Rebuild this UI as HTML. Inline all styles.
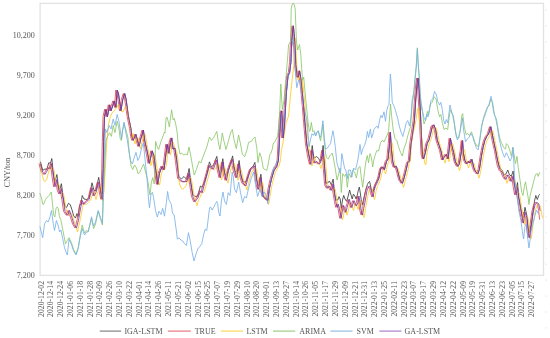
<!DOCTYPE html>
<html><head><meta charset="utf-8"><title>chart</title>
<style>
html,body{margin:0;padding:0;background:#fff;}
svg{display:block;font-family:"Liberation Serif",serif;font-size:8px;fill:#555;}
.ln path{fill:none;stroke-width:0.95;stroke-opacity:0.88;stroke-linejoin:round;stroke-linecap:round;}
</style></head><body>
<svg width="550" height="338" viewBox="0 0 550 338">
<rect x="0" y="0" width="550" height="338" fill="#fff"/>
<rect x="40.1" y="3.4" width="503.4" height="272" fill="none" stroke="#e2e2e2" stroke-width="1.3"/>
<rect x="545.4" y="9.1" width="1.3" height="1.6" fill="#ececec"/><rect x="545.4" y="25.0" width="1.3" height="1.6" fill="#ececec"/><rect x="545.4" y="40.9" width="1.3" height="1.6" fill="#ececec"/><rect x="545.4" y="56.8" width="1.3" height="1.6" fill="#ececec"/><rect x="545.4" y="72.7" width="1.3" height="1.6" fill="#ececec"/><rect x="545.4" y="88.6" width="1.3" height="1.6" fill="#ececec"/><rect x="545.4" y="104.5" width="1.3" height="1.6" fill="#ececec"/><rect x="545.4" y="120.4" width="1.3" height="1.6" fill="#ececec"/><rect x="545.4" y="136.3" width="1.3" height="1.6" fill="#ececec"/><rect x="545.4" y="152.2" width="1.3" height="1.6" fill="#ececec"/><rect x="545.4" y="168.1" width="1.3" height="1.6" fill="#ececec"/><rect x="545.4" y="184.0" width="1.3" height="1.6" fill="#ececec"/><rect x="545.4" y="199.9" width="1.3" height="1.6" fill="#ececec"/><rect x="545.4" y="215.8" width="1.3" height="1.6" fill="#ececec"/><rect x="545.4" y="231.7" width="1.3" height="1.6" fill="#ececec"/><rect x="545.4" y="247.6" width="1.3" height="1.6" fill="#ececec"/><rect x="545.4" y="263.5" width="1.3" height="1.6" fill="#ececec"/><rect x="545.4" y="279.4" width="1.3" height="1.6" fill="#ececec"/><rect x="545.4" y="295.3" width="1.3" height="1.6" fill="#ececec"/><rect x="545.4" y="311.2" width="1.3" height="1.6" fill="#ececec"/><rect x="545.4" y="327.1" width="1.3" height="1.6" fill="#ececec"/>
<g class="ln">
<path d="M40.5,162.1 L42.7,170.3 L45.0,169.0 L46.9,169.4 L48.7,162.8 L50.5,163.2 L51.8,158.5 L53.6,175.8 L55.0,181.4 L56.9,174.5 L58.7,188.5 L60.1,188.6 L61.4,183.7 L63.1,196.8 L64.9,206.3 L66.6,207.5 L68.4,203.3 L70.2,204.5 L72.0,209.9 L73.7,215.8 L75.5,218.1 L76.9,213.6 L78.1,216.5 L79.6,205.0 L80.9,204.5 L82.2,195.5 L84.0,199.0 L86.9,199.5 L89.2,197.5 L92.0,182.8 L94.0,190.5 L96.0,190.5 L98.7,177.3 L101.4,194.0 L102.2,194.0 L103.2,168.3 L103.7,141.3 L104.5,116.3 L106.0,109.3 L107.4,116.8 L109.7,104.8 L111.0,110.8 L112.5,106.3 L114.2,100.9 L115.9,107.3 L117.2,90.1 L118.5,93.8 L119.8,102.8 L120.9,110.8 L122.8,99.3 L124.7,93.5 L126.0,98.8 L127.0,105.8 L128.2,114.8 L129.0,119.3 L130.9,128.3 L131.9,136.3 L133.1,140.3 L135.9,134.3 L139.1,146.3 L140.8,138.9 L143.4,130.0 L144.9,141.3 L147.8,154.3 L149.4,163.3 L152.2,150.8 L154.0,156.3 L155.9,170.8 L157.8,184.3 L159.4,173.3 L162.2,166.3 L164.0,169.8 L167.1,144.3 L169.0,153.3 L170.4,142.3 L171.8,137.9 L173.1,148.9 L174.9,148.0 L176.8,159.9 L178.9,176.5 L181.4,179.0 L184.0,176.5 L186.8,179.5 L189.1,168.5 L190.9,182.5 L192.8,194.5 L194.9,196.4 L197.8,196.2 L200.4,186.0 L202.2,187.3 L204.9,180.5 L207.4,172.0 L209.4,161.9 L211.4,166.7 L213.4,165.4 L216.8,156.4 L218.6,169.0 L220.4,173.9 L222.8,158.7 L224.6,172.6 L226.4,176.6 L228.6,169.0 L230.4,163.5 L232.6,155.9 L234.4,169.0 L236.8,173.9 L239.1,160.5 L240.9,174.5 L243.1,181.7 L245.9,182.1 L248.6,174.5 L250.8,168.0 L253.1,166.3 L254.9,162.4 L256.8,180.0 L258.6,185.6 L260.9,174.2 L263.1,195.8 L264.9,197.6 L267.8,200.3 L269.4,188.3 L271.4,179.3 L274.1,170.3 L276.8,166.3 L278.4,160.3 L279.9,132.3 L280.9,114.3 L281.8,110.8 L283.2,138.0 L284.4,127.3 L286.4,92.3 L288.1,75.3 L289.6,72.6 L290.9,62.3 L291.8,40.3 L292.8,29.3 L293.4,25.8 L295.1,45.8 L295.8,64.3 L297.2,75.3 L298.1,77.3 L299.6,70.8 L300.9,78.9 L302.4,93.3 L303.6,106.3 L304.9,122.3 L306.8,143.9 L308.6,153.0 L310.1,159.5 L310.8,159.0 L312.2,145.5 L313.8,157.5 L314.9,157.7 L316.8,156.5 L318.6,158.6 L320.4,161.2 L321.8,156.5 L323.1,145.5 L324.6,166.5 L325.9,183.0 L327.8,183.0 L329.4,181.0 L331.4,185.0 L333.1,179.1 L334.6,192.7 L335.8,199.8 L337.8,200.1 L339.0,196.6 L340.2,199.0 L341.3,208.4 L342.5,200.0 L343.7,195.4 L345.0,199.0 L346.6,201.3 L348.2,196.0 L349.6,190.0 L351.0,195.0 L352.2,199.0 L353.4,194.2 L354.8,196.0 L356.1,199.0 L357.3,195.0 L358.5,189.5 L359.3,187.1 L360.3,193.0 L361.4,201.3 L362.4,204.9 L363.6,199.0 L364.8,194.0 L366.2,188.3 L367.4,184.5 L368.5,182.4 L369.6,181.4 L370.8,187.0 L371.9,191.5 L373.1,191.6 L374.2,188.5 L375.4,184.4 L377.8,179.5 L379.1,176.2 L380.9,167.1 L382.8,167.1 L384.4,169.8 L386.4,161.7 L388.1,158.9 L389.6,143.3 L390.4,132.3 L391.4,148.9 L392.8,161.7 L394.4,167.1 L396.4,166.3 L398.1,172.6 L399.9,179.8 L402.4,183.3 L404.1,178.0 L405.9,170.8 L407.8,162.6 L409.6,160.8 L410.9,145.3 L412.8,132.3 L414.4,120.8 L415.8,98.9 L417.2,82.6 L418.1,78.0 L419.1,89.8 L420.4,111.7 L421.2,130.3 L422.4,154.3 L423.6,158.9 L425.4,152.6 L427.2,143.3 L429.1,139.8 L430.9,132.6 L432.4,126.3 L433.9,124.8 L435.8,130.3 L437.2,139.8 L439.1,145.3 L440.9,150.8 L442.8,159.8 L444.4,156.3 L446.4,154.3 L448.1,158.9 L450.4,138.3 L451.8,145.3 L453.6,152.3 L455.4,161.7 L457.8,166.3 L459.4,163.9 L461.4,151.3 L462.6,140.6 L463.4,153.0 L464.9,160.3 L466.8,163.9 L468.6,161.3 L470.1,163.0 L471.9,159.3 L473.8,167.6 L475.4,171.3 L477.8,173.9 L479.4,169.3 L481.4,156.3 L483.1,147.3 L484.9,140.3 L486.8,136.3 L488.6,133.9 L490.8,126.7 L492.2,133.9 L494.1,143.3 L495.9,151.3 L496.8,156.7 L498.6,164.0 L500.4,168.5 L502.2,170.3 L504.1,174.9 L505.9,174.0 L507.8,170.0 L509.4,174.9 L511.4,176.0 L513.2,171.0 L514.5,184.5 L516.0,189.5 L517.5,182.5 L518.7,196.5 L520.5,206.5 L522.2,215.8 L523.5,217.7 L525.0,207.3 L526.9,215.8 L528.2,228.5 L529.5,232.3 L531.5,223.0 L533.2,210.3 L534.5,201.0 L535.8,195.5 L537.3,199.5 L538.7,195.5 L539.5,194.5" stroke="#3a3a3a"/>
<path d="M39.1,163.9 L41.3,172.1 L43.6,174.3 L45.5,171.2 L47.3,167.6 L49.1,168.5 L50.4,163.3 L52.2,177.6 L53.6,186.7 L55.5,179.3 L57.3,190.3 L58.7,193.9 L60.0,188.5 L61.8,199.3 L63.6,211.3 L65.5,214.3 L66.4,215.3 L68.1,210.3 L70.4,217.1 L72.7,224.3 L75.1,228.0 L77.3,218.9 L79.5,206.3 L80.9,200.3 L82.7,204.3 L85.5,201.3 L87.9,199.3 L90.6,187.6 L92.7,195.8 L94.6,192.3 L97.3,182.1 L100.0,195.8 L100.9,199.3 L101.8,168.3 L102.3,141.3 L103.1,116.3 L104.6,109.3 L106.0,116.8 L108.3,104.8 L109.7,110.8 L111.1,106.3 L112.9,100.9 L114.5,107.3 L115.8,90.1 L117.1,93.8 L118.4,102.8 L119.5,110.8 L121.4,99.3 L123.3,93.5 L124.6,98.8 L125.6,105.8 L126.9,114.8 L127.7,119.3 L129.6,128.3 L130.6,136.3 L131.8,140.3 L134.6,134.3 L137.8,146.3 L139.5,138.9 L142.1,130.0 L143.6,141.3 L146.4,154.3 L148.1,163.3 L150.9,150.8 L152.7,156.3 L154.6,170.8 L156.4,184.3 L158.1,173.3 L160.9,166.3 L162.7,169.8 L165.8,144.3 L167.7,153.3 L169.1,142.3 L170.5,137.9 L171.8,148.9 L173.6,148.0 L175.5,161.7 L177.6,178.3 L180.1,180.8 L182.7,181.8 L185.5,181.3 L187.8,173.3 L189.6,184.3 L191.5,196.3 L193.6,201.7 L196.4,198.0 L199.1,190.8 L200.9,192.6 L203.6,182.3 L206.1,173.3 L208.1,165.3 L210.1,168.0 L212.1,169.1 L215.5,159.8 L217.3,170.3 L219.1,177.6 L221.5,162.1 L223.3,173.9 L225.1,180.3 L227.3,170.3 L229.1,164.8 L231.3,159.3 L233.1,170.3 L235.5,177.6 L237.8,163.9 L239.6,175.8 L241.8,183.0 L244.6,185.8 L247.3,175.8 L249.5,169.3 L251.8,167.6 L253.6,165.8 L255.5,181.3 L257.3,189.3 L259.6,177.6 L261.8,195.8 L263.6,197.6 L266.4,200.3 L268.1,188.3 L270.1,179.3 L272.7,170.3 L275.5,166.3 L277.1,160.3 L278.6,132.3 L279.6,114.3 L280.5,110.8 L281.9,138.0 L283.1,127.3 L285.1,92.3 L286.8,75.3 L288.3,72.6 L289.6,62.3 L290.5,40.3 L291.5,29.3 L292.1,25.8 L293.7,45.8 L294.5,64.3 L295.9,75.3 L296.8,77.3 L298.3,70.8 L299.6,78.9 L301.1,93.3 L302.3,106.3 L303.6,122.3 L305.5,143.9 L307.3,154.8 L308.7,161.3 L309.5,164.3 L310.9,150.3 L312.4,159.3 L313.6,163.0 L315.5,161.3 L317.3,163.9 L319.1,163.0 L320.4,158.3 L321.8,150.3 L323.3,168.3 L324.6,184.8 L326.4,188.3 L328.1,185.8 L330.1,190.3 L331.8,183.9 L333.3,194.5 L334.5,201.6 L335.7,207.3 L336.9,204.0 L338.1,208.7 L339.2,215.3 L339.8,218.3 L341.0,211.1 L342.2,205.3 L343.3,208.3 L344.5,212.3 L345.7,207.3 L346.9,203.8 L348.1,199.3 L349.3,204.0 L350.5,207.5 L351.6,203.3 L352.8,200.6 L354.0,203.8 L355.2,205.7 L356.4,202.3 L357.6,195.9 L358.7,202.8 L359.9,210.8 L361.1,215.0 L362.3,208.7 L363.5,202.8 L364.7,195.7 L365.8,189.8 L367.0,187.4 L368.2,186.2 L369.4,188.8 L370.6,193.3 L371.8,196.9 L372.9,190.3 L374.1,186.2 L376.4,181.3 L377.7,178.0 L379.6,168.9 L381.4,167.1 L383.1,169.8 L385.1,161.7 L386.8,158.9 L388.3,143.3 L389.1,132.3 L390.1,148.9 L391.4,161.7 L393.1,167.1 L395.1,166.3 L396.8,172.6 L398.6,179.8 L401.1,183.3 L402.8,178.0 L404.6,170.8 L406.5,162.6 L408.3,160.8 L409.6,145.3 L411.4,132.3 L413.1,120.8 L414.5,98.9 L415.9,82.6 L416.8,78.0 L417.7,89.8 L419.1,111.7 L419.9,130.3 L421.1,154.3 L422.3,158.9 L424.1,152.6 L425.9,143.3 L427.7,139.8 L429.6,132.6 L431.1,126.3 L432.6,124.8 L434.5,130.3 L435.9,139.8 L437.7,145.3 L439.6,150.8 L441.4,159.8 L443.1,156.3 L445.1,154.3 L446.8,158.9 L449.1,138.3 L450.5,145.3 L452.3,152.3 L454.1,161.7 L456.4,166.3 L458.1,163.9 L460.1,151.3 L461.3,140.6 L462.1,153.0 L463.6,160.3 L465.5,163.9 L467.3,161.3 L468.7,163.0 L470.6,159.3 L472.4,167.6 L474.1,171.3 L476.4,173.9 L478.1,169.3 L480.1,156.3 L481.8,147.3 L483.6,140.3 L485.5,136.3 L487.3,133.9 L489.5,126.7 L490.9,133.9 L492.7,143.3 L494.6,151.3 L495.5,156.7 L497.3,165.8 L499.1,170.3 L500.9,172.1 L502.7,176.7 L504.6,179.3 L506.4,174.8 L508.1,176.7 L510.1,181.3 L511.8,175.8 L513.1,186.3 L514.6,194.8 L516.1,187.3 L517.3,198.3 L519.1,208.3 L520.9,217.6 L522.1,223.0 L523.6,212.1 L525.5,217.6 L526.9,230.3 L528.1,237.6 L530.1,224.8 L531.8,212.1 L533.6,204.8 L535.5,202.1 L537.3,203.9 L538.6,210.3 L539.6,219.3" stroke="#e0454d"/>
<path d="M40.0,163.0 L41.2,169.0 L42.4,176.0 L43.6,180.0 L44.7,181.7 L46.0,180.5 L47.1,178.0 L48.3,173.0 L49.5,169.0 L50.5,166.0 L51.3,165.4 L51.5,169.0 L52.0,168.3 L52.5,167.7 L53.0,167.9 L53.5,168.7 L54.0,170.8 L54.5,173.9 L55.0,177.6 L55.5,181.2 L56.0,183.6 L56.5,184.8 L57.0,184.9 L57.5,184.2 L58.0,183.5 L58.5,183.7 L59.0,185.0 L59.5,187.0 L60.0,189.5 L60.5,191.6 L61.0,192.9 L61.5,193.1 L62.0,192.7 L62.5,192.6 L63.0,192.9 L63.5,194.1 L64.0,196.3 L64.5,199.4 L65.0,202.6 L65.5,205.9 L66.0,208.7 L66.5,211.0 L67.0,212.8 L67.5,214.1 L68.0,214.8 L68.5,215.3 L69.0,215.4 L69.5,215.0 L70.0,214.2 L70.5,213.6 L71.0,213.3 L71.5,213.6 L72.0,214.5 L72.5,215.9 L73.0,217.4 L73.5,219.0 L74.0,220.5 L74.5,222.1 L75.0,223.5 L75.5,224.8 L76.0,225.9 L76.5,228.2 L77.0,230.3 L77.5,231.9 L78.0,230.2 L78.5,227.9 L79.0,225.1 L79.5,222.9 L80.0,220.6 L80.5,218.1 L81.0,215.5 L81.5,212.7 L82.0,210.0 L82.5,207.4 L83.0,205.3 L83.5,204.0 L84.0,203.4 L84.5,203.4 L85.0,203.9 L85.5,204.4 L86.0,204.6 L86.5,204.5 L87.0,204.0 L87.5,203.5 L88.0,203.0 L88.5,202.5 L89.0,202.0 L89.5,201.6 L90.0,201.0 L90.5,200.1 L91.0,198.9 L91.5,197.3 L92.0,195.3 L92.5,193.1 L93.0,191.8 L93.5,191.3 L94.0,191.6 L94.5,192.7 L95.0,195.5 L95.5,197.8 L96.0,199.5 L96.5,197.9 L97.0,195.6 L97.5,192.9 L98.0,191.4 L98.5,189.7 L99.0,187.8 L99.5,186.5 L100.0,186.0 L100.5,186.4 L101.0,187.7 L101.5,199.0 L102.8,201.0 L104.0,190.0 L105.5,165.0 L106.8,141.0 L108.6,123.6 L110.5,116.4 L112.3,112.5 L114.3,111.0 L116.0,108.5 L117.4,106.4 L118.3,104.2 L119.6,107.3 L121.0,111.0 L123.0,112.0 L125.0,107.3 L125.9,106.4 L127.0,109.0 L128.1,114.5 L129.5,122.5 L131.4,132.7 L132.5,139.0 L133.0,133.4 L133.5,136.1 L134.0,139.7 L134.5,142.3 L135.0,143.9 L135.5,142.2 L136.0,140.0 L136.5,137.6 L137.0,137.2 L137.5,137.3 L138.0,138.0 L138.5,139.3 L139.0,141.1 L139.5,144.3 L140.0,147.1 L140.5,149.0 L141.0,147.4 L141.5,145.0 L142.0,142.0 L142.5,140.0 L143.0,138.1 L143.5,136.3 L144.0,134.6 L144.5,134.0 L145.0,134.5 L145.5,136.1 L146.0,138.4 L146.5,141.6 L147.0,144.5 L147.5,147.1 L148.0,149.5 L148.5,151.8 L149.0,154.2 L149.5,156.7 L150.0,160.6 L150.5,163.5 L151.0,165.6 L151.5,164.0 L152.0,161.4 L152.5,157.8 L153.0,155.9 L153.5,154.7 L154.0,154.3 L154.5,154.6 L155.0,156.0 L155.5,158.4 L156.0,161.2 L156.5,164.5 L157.0,168.2 L157.5,172.0 L158.0,175.7 L158.5,180.3 L159.0,183.4 L159.5,185.1 L160.0,182.8 L160.5,179.5 L161.0,175.7 L161.5,173.6 L162.0,172.0 L162.5,170.8 L163.0,169.7 L163.5,169.1 L164.0,168.9 L164.5,169.1 L165.0,169.0 L165.5,168.2 L166.0,166.3 L166.5,163.4 L167.0,159.5 L167.5,155.4 L168.0,152.0 L168.5,150.0 L169.0,149.3 L169.5,151.1 L170.0,153.3 L170.5,154.8 L171.0,152.3 L171.5,149.0 L172.0,144.9 L172.5,142.6 L173.0,142.0 L173.5,143.0 L174.0,144.6 L174.5,146.4 L175.0,148.3 L175.5,149.3 L176.0,150.2 L176.5,151.5 L177.0,153.6 L177.5,156.4 L178.0,160.1 L178.5,177.0 L179.6,184.0 L180.8,187.5 L182.6,189.3 L184.4,187.8 L186.2,185.4 L187.3,180.0 L188.0,182.1 L188.5,181.3 L189.0,180.1 L189.5,178.7 L190.0,177.5 L190.5,177.3 L191.0,178.1 L191.5,179.8 L192.0,182.5 L192.5,185.6 L193.0,188.7 L193.5,191.7 L194.0,194.4 L194.5,196.8 L195.0,198.7 L195.5,200.3 L196.0,202.6 L196.5,204.4 L197.0,205.9 L197.5,204.2 L198.0,202.3 L198.5,200.2 L199.0,199.4 L199.5,198.4 L200.0,197.3 L200.5,196.0 L201.0,194.7 L201.5,193.7 L202.0,193.1 L202.5,192.9 L203.0,192.8 L203.5,192.6 L204.0,192.0 L204.5,190.8 L205.0,189.2 L205.5,187.3 L206.0,185.4 L206.5,183.6 L207.0,181.7 L207.5,179.9 L208.0,178.1 L208.5,176.3 L209.0,174.4 L209.5,172.5 L210.0,170.5 L210.5,169.0 L211.0,168.1 L211.5,167.7 L212.0,167.8 L212.5,168.4 L213.0,169.0 L213.5,169.4 L214.0,169.8 L214.5,169.7 L215.0,169.3 L215.5,168.6 L216.0,167.6 L216.5,166.2 L217.0,164.8 L217.5,163.6 L218.0,163.3 L218.5,163.8 L219.0,165.2 L219.5,167.3 L220.0,169.9 L220.5,173.7 L221.0,177.3 L221.5,179.7 L222.0,178.3 L222.5,175.9 L223.0,172.3 L223.5,169.4 L224.0,167.7 L224.5,167.3 L225.0,168.3 L225.5,170.3 L226.0,173.1 L226.5,175.6 L227.0,179.2 L227.5,181.6 L228.0,183.1 L228.5,181.1 L229.0,178.3 L229.5,174.8 L230.0,172.7 L230.5,170.9 L231.0,169.1 L231.5,167.6 L232.0,166.2 L232.5,164.8 L233.0,163.5 L233.5,162.8 L234.0,162.9 L234.5,163.9 L235.0,165.7 L235.5,168.1 L236.0,170.6 L236.5,172.7 L237.0,175.9 L237.5,178.5 L238.0,180.3 L238.5,178.5 L239.0,175.8 L239.5,172.2 L240.0,170.0 L240.5,169.1 L241.0,169.3 L241.5,170.9 L242.0,173.4 L242.5,176.0 L243.0,178.3 L243.5,180.3 L244.0,181.8 L244.5,183.0 L245.0,184.1 L245.5,184.9 L246.0,186.8 L246.5,188.7 L247.0,190.0 L247.5,188.3 L248.0,186.0 L248.5,183.3 L249.0,181.4 L249.5,179.6 L250.0,177.9 L250.5,176.2 L251.0,174.7 L251.5,173.2 L252.0,172.0 L252.5,171.0 L253.0,170.2 L253.5,169.7 L254.0,169.3 L254.5,168.9 L255.0,168.5 L255.5,168.0 L256.0,168.4 L256.5,169.7 L257.0,172.0 L257.5,175.1 L258.0,178.7 L258.5,182.0 L259.0,186.2 L259.5,189.5 L260.0,191.5 L260.5,189.9 L261.0,187.4 L261.5,183.9 L262.0,182.7 L262.5,182.8 L263.0,184.3 L263.5,187.1 L264.0,190.8 L264.5,193.7 L265.0,196.0 L265.5,197.5 L266.0,198.3 L266.5,198.8 L267.0,199.3 L267.5,201.1 L268.0,202.9 L268.5,204.4 L269.0,202.4 L269.5,199.7 L270.0,196.1 L270.5,193.3 L271.0,190.3 L271.5,187.5 L272.0,185.0 L272.5,182.9 L273.0,180.8 L273.5,178.9 L274.0,177.0 L274.5,175.3 L275.0,173.7 L275.5,172.4 L276.0,171.2 L276.5,170.3 L277.0,169.5 L277.5,168.0 L279.0,166.0 L280.5,160.0 L281.4,150.5 L283.2,141.4 L286.0,123.0 L288.6,116.0 L290.5,95.0 L292.3,78.6 L294.0,64.0 L294.8,42.0 L295.5,38.0 L296.5,62.0 L298.0,80.0 L299.8,76.0 L301.0,82.0 L302.0,92.0 L302.5,81.1 L303.0,85.2 L303.5,89.8 L304.0,94.9 L304.5,100.1 L305.0,105.7 L305.5,111.5 L306.0,117.3 L306.5,123.2 L307.0,129.1 L307.5,134.8 L308.0,139.8 L308.5,144.3 L309.0,148.3 L309.5,151.7 L310.0,154.5 L310.5,157.1 L311.0,160.9 L311.5,164.2 L312.0,165.9 L312.5,163.6 L313.0,160.4 L313.5,157.4 L314.0,156.2 L314.5,156.5 L315.0,158.2 L315.5,160.5 L316.0,162.1 L316.5,163.0 L317.0,163.4 L317.5,163.4 L318.0,163.2 L318.5,163.3 L319.0,163.6 L319.5,164.0 L320.0,165.7 L320.5,167.3 L321.0,168.6 L321.5,166.8 L322.0,164.6 L322.5,162.0 L323.0,160.2 L323.5,157.9 L324.0,156.4 L324.5,156.5 L325.0,158.3 L325.5,161.9 L326.0,167.3 L326.5,173.4 L327.0,178.6 L327.5,182.8 L328.0,185.9 L328.5,187.8 L329.0,188.3 L329.5,188.5 L330.0,188.3 L330.5,188.1 L331.0,188.1 L331.5,188.5 L332.0,189.3 L332.5,189.8 L333.0,189.7 L333.5,189.0 L334.0,188.4 L334.5,188.2 L335.0,189.2 L335.5,191.1 L336.0,194.0 L336.5,197.2 L337.0,200.2 L337.5,203.0 L338.0,205.0 L338.5,206.1 L339.0,206.6 L339.5,207.1 L340.0,207.4 L340.5,208.6 L341.0,210.5 L341.5,214.4 L342.0,217.6 L342.5,219.9 L343.0,218.4 L343.5,215.8 L344.0,212.1 L344.5,210.1 L345.0,208.9 L345.5,208.7 L346.0,210.6 L346.5,213.1 L347.0,215.1 L347.5,213.8 L348.0,211.8 L348.5,209.2 L349.0,207.5 L349.5,205.8 L350.0,204.1 L350.5,203.1 L351.0,202.8 L351.5,203.2 L352.0,204.2 L352.5,207.1 L353.0,209.2 L353.5,210.6 L354.0,208.7 L354.5,206.3 L355.0,203.8 L355.5,203.3 L356.0,203.5 L356.5,204.0 L357.0,206.2 L357.5,208.2 L358.0,209.6 L358.5,207.7 L359.0,205.1 L359.5,201.9 L360.0,200.8 L360.5,200.6 L361.0,201.4 L361.5,203.5 L362.0,206.6 L362.5,209.4 L363.0,213.3 L363.5,216.1 L364.0,217.6 L364.5,215.4 L365.0,212.4 L365.5,208.5 L366.0,205.8 L366.5,203.1 L367.0,200.4 L367.5,197.6 L368.0,195.0 L368.5,192.8 L369.0,191.0 L369.5,189.7 L370.0,188.8 L370.5,188.3 L371.0,188.3 L371.5,188.8 L372.0,189.7 L372.5,191.1 L373.0,192.6 L373.5,195.6 L374.0,198.1 L374.5,199.5 L375.0,197.5 L375.5,194.7 L376.0,191.4 L376.5,189.4 L377.0,187.8 L377.5,186.5 L378.0,185.3 L378.5,184.2 L379.0,183.1 L379.5,181.9 L380.0,180.5 L380.5,178.9 L381.0,177.0 L381.5,174.8 L382.0,172.9 L382.5,171.2 L383.0,170.0 L383.5,169.2 L384.0,169.1 L384.5,170.5 L385.0,172.2 L385.5,173.6 L386.0,172.0 L386.5,169.7 L387.0,166.9 L387.5,165.2 L388.0,163.6 L388.5,162.3 L389.0,160.7 L389.5,158.5 L390.0,155.4 L390.5,151.2 L391.0,145.8 L391.5,142.8 L392.0,142.5 L392.5,144.2 L393.0,148.1 L393.5,154.1 L394.0,158.7 L394.5,162.1 L395.0,164.7 L395.5,166.4 L396.0,167.2 L396.5,167.7 L397.0,167.9 L397.5,168.1 L398.0,168.7 L398.5,169.8 L399.0,171.2 L399.5,173.1 L400.0,175.1 L400.5,177.0 L401.0,178.7 L401.5,180.2 L402.0,181.4 L402.5,183.7 L403.0,185.8 L403.5,187.3 L404.0,185.8 L404.5,183.8 L405.0,181.3 L405.5,179.6 L406.0,177.8 L406.5,176.0 L407.0,174.0 L407.5,171.9 L408.0,169.8 L408.5,167.8 L409.0,164.0 L410.5,160.0 L411.4,143.0 L413.0,134.0 L415.0,125.0 L416.0,120.0 L417.2,111.4 L418.3,107.5 L419.5,120.5 L421.4,136.0 L423.0,150.0 L424.5,162.0 L425.5,165.0 L426.0,164.0 L426.5,156.7 L427.0,153.3 L427.5,151.1 L428.0,148.8 L428.5,146.6 L429.0,144.8 L429.5,143.3 L430.0,142.0 L430.5,140.7 L431.0,139.2 L431.5,137.6 L432.0,135.7 L432.5,133.7 L433.0,131.7 L433.5,129.9 L434.0,128.5 L434.5,127.3 L435.0,126.9 L435.5,127.2 L436.0,127.8 L436.5,129.0 L437.0,130.9 L437.5,133.2 L438.0,135.7 L438.5,138.3 L439.0,140.8 L439.5,142.9 L440.0,144.7 L440.5,146.2 L441.0,147.6 L441.5,149.1 L442.0,150.8 L442.5,152.6 L443.0,154.7 L443.5,156.7 L444.0,159.6 L444.5,161.7 L445.0,163.1 L445.5,161.3 L446.0,159.2 L446.5,157.1 L447.0,156.5 L447.5,156.4 L448.0,157.9 L448.5,159.9 L449.0,161.5 L449.5,159.7 L450.0,156.6 L450.5,152.5 L451.0,148.5 L451.5,145.4 L452.0,143.7 L452.5,143.4 L453.0,144.3 L453.5,146.6 L454.0,148.7 L454.5,150.9 L455.0,153.0 L455.5,155.3 L456.0,157.7 L456.5,160.0 L457.0,161.9 L457.5,163.6 L458.0,164.9 L458.5,167.1 L459.0,169.0 L459.5,170.5 L460.0,169.0 L460.5,166.7 L461.0,163.6 L461.5,161.5 L462.0,158.8 L462.5,155.4 L463.0,151.7 L463.5,149.2 L464.0,149.0 L464.5,149.8 L465.0,152.0 L465.5,155.6 L466.0,158.8 L466.5,160.6 L467.0,162.2 L467.5,164.7 L468.0,166.5 L468.5,168.1 L469.0,166.6 L469.5,165.0 L470.0,163.4 L470.5,163.3 L471.0,163.3 L471.5,163.3 L472.0,163.0 L472.5,162.4 L473.0,162.1 L473.5,162.5 L474.0,163.5 L474.5,165.0 L475.0,167.0 L475.5,168.7 L476.0,170.2 L476.5,171.3 L477.0,172.2 L477.5,173.0 L478.0,175.0 L478.5,176.7 L479.0,178.1 L479.5,176.4 L480.0,174.3 L480.5,171.5 L481.0,169.4 L481.5,166.9 L482.0,164.0 L482.5,160.9 L483.0,157.9 L483.5,155.0 L484.0,152.3 L484.5,149.9 L485.0,147.6 L485.5,145.4 L486.0,143.6 L486.5,142.0 L487.0,140.6 L487.5,139.4 L488.0,138.5 L488.5,137.6 L489.0,136.8 L489.5,135.9 L490.0,134.9 L490.5,133.8 L491.0,132.4 L491.5,131.0 L492.0,130.4 L492.5,130.6 L493.0,131.7 L493.5,133.6 L494.0,136.2 L494.5,138.8 L495.0,141.3 L495.5,143.7 L496.0,146.0 L496.5,148.3 L497.0,150.6 L497.5,153.0 L498.0,155.5 L498.5,158.2 L499.0,160.9 L499.5,163.3 L500.0,165.4 L500.5,167.3 L501.0,168.9 L501.5,170.1 L502.0,171.1 L502.5,171.9 L503.0,172.6 L503.5,173.3 L504.0,174.2 L504.5,175.2 L505.0,176.3 L505.5,177.3 L506.0,179.6 L506.5,181.8 L507.0,183.4 L507.5,182.0 L508.0,180.2 L508.5,178.1 L509.0,177.4 L509.5,177.0 L510.0,177.0 L510.5,177.5 L511.0,178.3 L511.5,179.2 L512.0,180.2 L512.5,180.8 L513.0,180.8 L513.5,180.3 L514.0,179.9 L514.5,180.1 L515.0,181.5 L515.5,183.7 L516.0,186.8 L516.5,190.1 L517.0,192.1 L517.5,192.8 L518.0,192.4 L518.5,192.4 L519.0,192.7 L519.5,194.3 L520.0,196.9 L520.5,200.5 L521.0,203.8 L521.5,206.7 L522.0,209.4 L522.5,212.0 L523.0,214.6 L523.5,218.5 L524.0,222.2 L524.5,224.7 L525.0,223.3 L525.5,220.7 L526.0,217.9 L526.5,216.3 L527.0,215.8 L527.5,216.3 L528.0,218.5 L528.5,221.3 L529.0,224.6 L529.5,228.2 L530.0,233.4 L530.5,237.0 L531.0,239.1 L531.5,237.0 L532.0,233.7 L532.5,229.1 L533.0,225.7 L533.5,222.2 L534.0,218.7 L534.5,215.5 L535.0,212.7 L535.5,210.2 L536.0,208.3 L536.5,206.8 L537.0,205.6 L537.5,204.6 L538.0,204.2 L538.5,204.0 L539.0,204.1 L539.5,204.6 L540.0,205.8 L540.5,207.3 L541.0,209.6 L541.5,212.7 L542.0,215.5 L542.5,217.8" stroke="#ffc820"/>
<path d="M40.0,193.6 L41.5,198.0 L42.7,204.0 L43.6,204.5 L45.5,199.5 L47.5,197.0 L49.0,195.5 L51.3,192.0 L52.4,202.7 L53.6,214.6 L54.8,217.0 L56.0,208.7 L57.2,206.9 L58.3,208.7 L59.5,217.0 L60.7,219.3 L61.9,225.0 L62.2,226.8 L63.6,234.0 L65.5,244.0 L67.3,240.5 L69.0,237.7 L71.3,242.3 L73.6,249.5 L76.0,254.0 L78.2,247.7 L80.4,234.0 L82.2,225.0 L84.5,233.0 L86.4,230.5 L88.2,231.4 L91.5,218.6 L93.6,228.6 L95.5,224.0 L98.2,211.4 L100.9,220.5 L102.4,225.0 L104.0,180.0 L105.9,141.0 L107.7,136.4 L109.5,132.7 L111.4,136.4 L113.2,125.5 L115.0,132.7 L117.2,121.0 L119.0,129.0 L120.1,138.1 L121.3,140.5 L122.5,131.0 L124.0,123.6 L126.0,130.0 L128.0,138.0 L129.0,150.0 L131.0,166.0 L132.7,169.5 L134.5,165.0 L136.4,167.7 L138.2,174.0 L140.0,172.0 L141.8,167.7 L143.6,164.0 L145.5,172.0 L147.3,178.0 L148.7,186.8 L150.0,195.0 L151.3,183.0 L152.7,177.7 L154.2,184.0 L155.0,161.4 L155.6,141.4 L157.3,147.0 L158.6,149.5 L161.0,141.4 L162.7,137.0 L164.5,132.0 L165.0,133.0 L166.1,117.6 L167.2,117.5 L168.3,122.0 L169.4,127.0 L170.5,118.0 L171.6,109.8 L172.4,115.0 L173.1,119.8 L174.2,118.3 L175.7,124.0 L176.8,130.0 L177.3,134.0 L178.2,145.0 L180.0,154.0 L181.8,153.0 L183.6,155.0 L185.5,154.0 L187.3,155.0 L189.0,147.0 L191.0,157.0 L192.7,167.0 L194.2,175.0 L196.4,169.5 L199.0,161.4 L200.9,163.0 L202.7,157.7 L204.5,153.0 L206.8,147.0 L209.5,137.0 L211.4,140.5 L214.0,137.0 L216.8,131.4 L218.6,144.0 L220.0,149.5 L222.3,133.0 L224.0,141.4 L226.0,149.5 L228.3,141.4 L230.5,133.0 L232.3,129.5 L234.0,139.5 L236.3,148.6 L238.6,135.0 L240.5,144.0 L242.3,154.0 L244.6,156.8 L246.8,150.5 L248.6,142.3 L251.4,141.4 L253.2,138.6 L255.0,137.0 L256.8,148.0 L258.0,162.5 L259.7,152.8 L261.5,158.0 L263.3,168.5 L265.0,169.5 L266.8,170.5 L268.0,165.0 L269.8,154.7 L271.0,153.0 L272.2,149.5 L273.2,144.0 L275.0,141.4 L277.7,136.0 L279.5,116.0 L280.8,84.0 L282.3,109.5 L284.0,100.5 L286.0,77.0 L287.7,57.0 L288.6,44.5 L290.5,42.0 L291.0,20.0 L291.2,9.0 L292.0,5.0 L293.3,3.0 L294.4,5.0 L295.2,9.0 L295.8,25.0 L296.5,42.0 L297.7,50.0 L299.5,44.5 L300.8,55.0 L302.0,73.0 L302.6,80.5 L303.7,77.0 L305.0,91.4 L306.7,109.0 L308.0,121.8 L309.4,131.5 L310.3,130.0 L311.3,122.4 L312.8,131.9 L314.0,130.7 L315.5,135.4 L317.0,132.5 L318.4,131.3 L320.5,140.8 L321.7,134.0 L322.9,124.2 L324.0,139.6 L325.0,147.9 L325.5,153.0 L326.4,157.3 L328.2,159.0 L330.0,155.5 L332.2,153.0 L333.6,159.0 L335.5,170.0 L337.0,180.0 L338.7,173.6 L340.0,168.0 L341.3,192.5 L342.7,173.6 L344.5,176.4 L346.0,174.0 L347.3,187.3 L349.0,173.6 L351.0,177.3 L352.7,170.0 L354.5,171.8 L356.4,178.0 L358.2,168.0 L360.0,166.4 L361.3,177.3 L362.7,187.3 L364.5,171.8 L366.0,161.0 L367.3,155.5 L368.5,162.7 L370.0,153.6 L371.5,158.0 L372.7,167.0 L373.8,160.0 L375.0,155.7 L376.8,150.5 L378.6,151.0 L380.5,143.0 L382.3,140.0 L384.0,142.0 L386.0,137.5 L387.7,134.0 L388.6,131.4 L390.5,104.0 L391.7,116.8 L393.2,130.0 L395.0,138.6 L396.8,140.5 L398.6,146.8 L400.5,152.3 L402.3,156.0 L404.0,148.6 L406.0,143.0 L407.7,136.0 L409.5,130.0 L410.5,127.0 L412.3,102.3 L413.5,96.8 L414.6,82.0 L416.2,66.0 L417.3,47.8 L418.4,66.0 L419.6,80.0 L420.5,102.3 L422.3,111.4 L424.0,124.0 L426.0,118.6 L427.4,111.4 L428.6,115.0 L430.5,104.0 L432.3,102.3 L434.0,96.8 L436.0,98.6 L437.7,109.5 L439.5,116.8 L440.8,114.5 L442.3,122.3 L444.0,129.5 L446.0,128.0 L447.7,129.5 L449.6,114.0 L450.6,109.7 L452.7,115.5 L454.5,124.5 L456.4,137.3 L458.2,138.0 L460.0,131.8 L461.8,115.5 L462.7,113.6 L464.2,126.4 L466.0,134.5 L467.8,133.6 L469.6,135.5 L471.5,131.8 L473.3,137.3 L475.0,142.7 L477.0,146.0 L478.7,146.4 L480.0,139.0 L481.8,126.4 L483.6,117.3 L485.5,111.8 L487.3,107.3 L489.0,105.5 L491.0,99.0 L492.7,102.7 L494.5,115.5 L496.4,119.0 L498.2,130.0 L500.0,139.0 L501.8,143.6 L503.6,147.5 L505.5,149.0 L506.4,143.6 L508.2,145.5 L510.0,151.0 L511.5,156.4 L512.7,147.3 L514.0,154.5 L515.5,163.6 L517.0,156.4 L518.2,167.3 L520.0,180.0 L521.8,192.7 L523.0,195.5 L524.5,185.5 L525.5,181.8 L526.7,189.0 L528.2,198.0 L529.0,204.5 L530.0,196.0 L531.8,189.0 L533.6,181.8 L535.5,174.5 L537.3,173.6 L538.2,176.4 L539.5,172.7" stroke="#8cc768"/>
<path d="M40.0,226.8 L42.7,237.7 L44.5,224.0 L46.4,220.5 L48.2,222.0 L50.0,216.8 L51.5,210.5 L53.0,222.0 L54.5,230.5 L56.4,220.5 L58.0,225.0 L59.6,232.0 L60.9,230.0 L62.7,238.6 L64.5,247.7 L66.4,253.0 L67.3,255.0 L69.0,239.5 L71.3,244.0 L73.6,251.0 L76.0,255.0 L78.2,248.5 L80.4,236.0 L82.2,228.6 L84.5,235.0 L86.4,232.0 L88.2,232.0 L91.5,216.8 L93.6,226.0 L95.5,222.0 L98.2,210.5 L100.9,218.5 L102.4,223.0 L103.0,200.0 L104.0,165.0 L105.0,141.0 L105.5,129.0 L106.8,132.5 L109.2,125.5 L111.0,129.0 L113.2,119.0 L115.0,125.5 L117.2,114.5 L119.0,121.8 L120.8,134.0 L121.6,139.0 L122.5,131.0 L124.0,122.0 L125.5,131.0 L127.3,140.0 L129.0,152.0 L130.5,160.5 L132.4,164.0 L134.2,157.7 L136.0,152.3 L137.8,160.5 L139.6,157.0 L141.5,148.6 L143.3,143.0 L144.5,154.0 L145.8,166.8 L147.0,178.0 L147.6,186.0 L148.7,201.4 L149.5,207.7 L151.0,194.0 L152.4,192.3 L153.6,197.7 L155.5,210.5 L157.3,217.0 L159.0,211.2 L161.0,214.5 L162.7,208.3 L164.5,216.2 L166.4,202.5 L167.6,191.4 L169.0,200.0 L170.0,201.8 L171.4,204.6 L172.3,212.0 L172.8,213.8 L174.1,214.7 L175.0,221.0 L176.4,231.0 L177.3,239.0 L179.0,238.0 L181.0,240.0 L182.7,241.0 L184.5,243.6 L186.4,245.5 L188.5,232.7 L190.4,241.8 L192.2,252.7 L194.0,261.0 L196.4,252.7 L198.2,248.0 L200.0,246.4 L201.8,243.6 L203.6,234.5 L205.3,229.0 L206.7,230.5 L207.6,224.0 L209.0,212.0 L209.9,207.3 L210.8,207.2 L212.2,210.1 L213.6,207.3 L215.0,204.6 L216.8,201.4 L217.7,203.7 L218.6,212.0 L220.0,216.0 L221.5,200.0 L223.0,192.0 L224.5,201.0 L226.4,204.5 L228.2,192.7 L230.0,195.5 L232.2,172.0 L233.3,177.0 L234.5,189.0 L236.4,192.7 L238.7,182.0 L240.5,192.7 L242.7,202.7 L244.5,196.4 L246.4,198.0 L248.2,190.0 L251.0,179.0 L253.6,172.0 L255.5,184.5 L257.6,196.4 L260.0,189.0 L261.8,196.4 L263.6,192.0 L265.5,193.0 L267.8,203.6 L269.6,189.0 L271.8,175.5 L273.6,167.3 L275.8,164.5 L278.2,157.3 L279.5,135.0 L280.5,118.0 L281.4,113.0 L282.8,135.0 L284.0,125.0 L286.0,95.0 L287.7,78.0 L289.2,74.0 L290.5,65.0 L291.6,48.0 L293.5,38.0 L294.6,52.0 L295.6,75.0 L296.8,87.7 L298.6,80.0 L300.0,83.0 L302.0,95.0 L304.0,108.0 L306.0,117.0 L307.3,121.8 L308.0,133.7 L309.2,146.5 L310.4,140.0 L312.0,133.7 L313.4,135.4 L314.6,132.5 L315.8,136.0 L316.9,131.9 L318.4,130.7 L319.9,137.8 L321.0,135.4 L322.9,120.7 L324.3,137.2 L325.5,149.0 L327.0,148.5 L328.8,146.0 L330.5,143.7 L331.7,137.2 L332.9,130.7 L334.1,137.2 L335.3,146.7 L336.1,155.0 L337.0,163.0 L339.0,170.0 L340.5,173.6 L341.8,153.6 L343.0,160.0 L344.5,168.0 L346.0,171.0 L347.4,178.5 L348.5,170.0 L350.4,170.0 L351.8,177.3 L353.6,168.0 L355.5,170.0 L357.3,162.7 L358.2,158.0 L360.0,144.5 L361.3,154.5 L362.7,149.0 L364.5,145.5 L366.2,140.0 L367.4,131.4 L368.6,137.5 L370.4,129.0 L371.6,138.0 L372.7,135.0 L373.9,129.6 L375.7,127.2 L376.9,126.0 L378.1,128.4 L379.9,118.9 L381.0,115.4 L382.2,117.8 L384.0,111.8 L385.5,121.3 L386.7,110.7 L388.2,105.5 L389.0,104.5 L389.6,88.0 L390.4,74.0 L391.3,85.0 L392.2,102.0 L393.7,105.5 L395.5,110.5 L397.7,118.6 L399.5,127.0 L401.4,133.0 L402.8,136.5 L405.0,128.0 L406.3,122.5 L407.7,120.5 L409.5,126.0 L411.0,116.8 L412.3,98.6 L414.0,91.4 L415.0,81.0 L416.4,66.0 L417.4,49.0 L418.3,66.0 L419.3,79.0 L420.0,93.0 L421.4,104.0 L422.6,111.4 L424.0,117.7 L425.5,120.5 L426.8,114.0 L428.0,117.0 L429.5,108.6 L431.0,100.5 L432.8,98.6 L434.6,91.4 L436.5,95.0 L437.7,101.4 L439.5,105.0 L440.8,102.3 L442.3,109.5 L443.7,120.5 L445.0,124.0 L446.3,119.5 L447.7,123.0 L450.0,105.0 L451.6,112.0 L453.4,116.0 L455.2,130.0 L457.3,140.0 L459.0,137.3 L461.0,126.4 L462.4,118.0 L463.6,130.0 L465.5,141.8 L467.3,139.0 L469.0,137.3 L471.0,133.6 L472.7,136.4 L474.5,142.7 L476.4,148.0 L478.2,150.0 L480.0,137.3 L481.8,124.5 L483.6,119.0 L485.5,113.6 L487.3,108.0 L489.0,104.5 L491.0,96.4 L492.2,102.7 L493.6,111.8 L495.5,117.3 L497.3,126.4 L499.0,138.0 L501.0,147.0 L502.7,153.0 L504.5,157.3 L506.4,152.7 L508.2,156.4 L510.0,161.0 L512.0,157.0 L513.1,147.5 L513.8,162.0 L514.5,176.4 L515.8,190.0 L517.3,198.0 L519.0,211.8 L521.0,221.0 L522.4,231.8 L523.6,239.0 L525.0,226.4 L526.4,224.0 L527.8,239.0 L529.0,248.0 L531.0,231.8 L532.7,224.5 L534.5,217.3 L536.4,210.0 L538.2,213.6" stroke="#78b1e9"/>
<path d="M40.5,164.0 L42.7,172.2 L45.0,174.4 L46.9,171.3 L48.7,167.7 L50.5,168.6 L51.8,163.4 L53.6,177.7 L55.0,186.8 L56.9,179.4 L58.7,190.4 L60.1,194.0 L61.4,188.6 L63.2,199.4 L65.0,211.4 L66.9,214.4 L67.8,215.4 L69.5,210.4 L71.8,217.2 L74.0,224.4 L76.5,228.1 L78.7,219.0 L80.9,206.4 L82.2,200.4 L84.0,204.4 L86.9,201.4 L89.2,199.4 L92.0,187.7 L94.0,195.9 L96.0,192.4 L98.7,182.2 L101.4,195.9 L102.2,199.4 L103.2,168.4 L103.7,141.4 L104.5,116.4 L106.0,109.4 L107.4,116.9 L109.7,104.9 L111.0,110.9 L112.5,106.4 L114.2,101.0 L115.9,107.4 L117.2,90.2 L118.5,93.9 L119.8,102.9 L120.9,110.9 L122.8,99.4 L124.7,93.6 L126.0,98.9 L127.0,105.9 L128.2,114.9 L129.0,119.4 L130.9,128.4 L131.9,136.4 L133.1,140.4 L135.9,134.4 L139.1,146.4 L140.8,139.0 L143.4,130.1 L144.9,141.4 L147.8,154.4 L149.4,163.4 L152.2,150.9 L154.0,156.4 L155.9,170.9 L157.8,184.4 L159.4,173.4 L162.2,166.4 L164.0,169.9 L167.1,144.4 L169.0,153.4 L170.4,142.4 L171.8,138.0 L173.1,149.0 L174.9,148.1 L176.8,161.8 L178.9,178.4 L181.4,180.9 L184.0,181.9 L186.8,181.4 L189.1,173.4 L190.9,184.4 L192.8,196.4 L194.9,201.8 L197.8,198.1 L200.4,190.9 L202.2,192.7 L204.9,182.4 L207.4,173.4 L209.4,165.4 L211.4,168.1 L213.4,169.2 L216.8,159.9 L218.6,170.4 L220.4,177.7 L222.8,162.2 L224.6,174.0 L226.4,180.4 L228.6,170.4 L230.4,164.9 L232.6,159.4 L234.4,170.4 L236.8,177.7 L239.1,164.0 L240.9,175.9 L243.1,183.1 L245.9,185.9 L248.6,175.9 L250.8,169.4 L253.1,167.7 L254.9,165.9 L256.8,181.4 L258.6,189.4 L260.9,177.7 L263.1,195.9 L264.9,197.7 L267.8,200.4 L269.4,188.4 L271.4,179.4 L274.1,170.4 L276.8,166.4 L278.4,160.4 L279.9,132.4 L280.9,114.4 L281.8,110.9 L283.2,138.1 L284.4,127.4 L286.4,92.4 L288.1,75.4 L289.6,72.7 L290.9,62.4 L291.8,40.4 L292.8,29.4 L293.4,25.9 L295.1,45.9 L295.8,64.4 L297.2,75.4 L298.1,77.4 L299.6,70.9 L300.9,79.0 L302.4,93.4 L303.6,106.4 L304.9,122.4 L306.8,144.0 L308.6,154.9 L310.1,161.4 L310.8,164.4 L312.2,150.4 L313.8,159.4 L314.9,163.1 L316.8,161.4 L318.6,164.0 L320.4,163.1 L321.8,158.4 L323.1,150.4 L324.6,168.4 L325.9,184.9 L327.8,188.4 L329.4,185.9 L331.4,190.4 L333.1,184.0 L334.6,194.6 L335.8,201.7 L337.1,207.4 L338.2,204.1 L339.4,208.8 L340.6,215.4 L341.1,218.4 L342.3,211.2 L343.6,205.4 L344.6,208.4 L345.8,212.4 L347.1,207.4 L348.2,203.9 L349.4,199.4 L350.6,204.1 L351.8,207.6 L352.9,203.4 L354.1,200.7 L355.3,203.9 L356.6,205.8 L357.8,202.4 L358.9,196.0 L360.1,202.9 L361.2,210.9 L362.4,215.1 L363.6,208.8 L364.8,202.9 L366.1,195.8 L367.1,189.9 L368.3,187.5 L369.6,186.3 L370.8,188.9 L371.9,193.4 L373.1,197.0 L374.2,190.4 L375.4,186.3 L377.8,181.4 L379.1,178.1 L380.9,169.0 L382.8,167.2 L384.4,169.9 L386.4,161.8 L388.1,159.0 L389.6,143.4 L390.4,132.4 L391.4,149.0 L392.8,161.8 L394.4,167.2 L396.4,166.4 L398.1,172.7 L399.9,179.9 L402.4,183.4 L404.1,178.1 L405.9,170.9 L407.8,162.7 L409.6,160.9 L410.9,145.4 L412.8,132.4 L414.4,120.9 L415.8,99.0 L417.2,82.7 L418.1,78.1 L419.1,89.9 L420.4,111.8 L421.2,130.4 L422.4,154.4 L423.6,159.0 L425.4,152.7 L427.2,143.4 L429.1,139.9 L430.9,132.7 L432.4,126.4 L433.9,124.9 L435.8,130.4 L437.2,139.9 L439.1,145.4 L440.9,150.9 L442.8,159.9 L444.4,156.4 L446.4,154.4 L448.1,159.0 L450.4,138.4 L451.8,145.4 L453.6,152.4 L455.4,161.8 L457.8,166.4 L459.4,164.0 L461.4,151.4 L462.6,140.7 L463.4,153.1 L464.9,160.4 L466.8,164.0 L468.6,161.4 L470.1,163.1 L471.9,159.4 L473.8,167.7 L475.4,171.4 L477.8,174.0 L479.4,169.4 L481.4,156.4 L483.1,147.4 L484.9,140.4 L486.8,136.4 L488.6,134.0 L490.8,126.8 L492.2,134.0 L494.1,143.4 L495.9,151.4 L496.8,156.8 L498.6,165.9 L500.4,170.4 L502.2,172.2 L504.1,176.8 L505.9,179.4 L507.8,174.9 L509.4,176.8 L511.4,181.4 L513.2,175.9 L514.5,186.4 L516.0,194.9 L517.5,187.4 L518.7,198.4 L520.5,208.4 L522.2,217.7 L523.5,223.1 L525.0,212.2 L526.9,217.7 L528.2,230.4 L529.5,237.7 L531.5,224.9 L533.2,212.2 L535.0,204.9 L536.9,202.2 L538.7,204.0 L540.0,210.4" stroke="#7a35a8"/>
</g>
<g>
<text x="34.8" y="37.8" text-anchor="end">10,200</text>
<text x="34.8" y="77.8" text-anchor="end">9,700</text>
<text x="34.8" y="117.8" text-anchor="end">9,200</text>
<text x="34.8" y="157.8" text-anchor="end">8,700</text>
<text x="34.8" y="197.8" text-anchor="end">8,200</text>
<text x="34.8" y="237.8" text-anchor="end">7,700</text>
<text x="34.8" y="277.8" text-anchor="end">7,200</text>
</g>
<text transform="translate(9.7,172.5) rotate(-90)" text-anchor="middle">CNY/ton</text>
<g>
<text transform="translate(43.50,281) rotate(-90)" text-anchor="end" font-size="7.7">2020-12-02</text>
<text transform="translate(53.31,281) rotate(-90)" text-anchor="end" font-size="7.7">2020-12-14</text>
<text transform="translate(63.13,281) rotate(-90)" text-anchor="end" font-size="7.7">2020-12-24</text>
<text transform="translate(72.94,281) rotate(-90)" text-anchor="end" font-size="7.7">2021-01-06</text>
<text transform="translate(82.76,281) rotate(-90)" text-anchor="end" font-size="7.7">2021-01-18</text>
<text transform="translate(92.57,281) rotate(-90)" text-anchor="end" font-size="7.7">2021-01-28</text>
<text transform="translate(102.38,281) rotate(-90)" text-anchor="end" font-size="7.7">2021-02-09</text>
<text transform="translate(112.20,281) rotate(-90)" text-anchor="end" font-size="7.7">2021-02-26</text>
<text transform="translate(122.01,281) rotate(-90)" text-anchor="end" font-size="7.7">2021-03-10</text>
<text transform="translate(131.83,281) rotate(-90)" text-anchor="end" font-size="7.7">2021-03-22</text>
<text transform="translate(141.64,281) rotate(-90)" text-anchor="end" font-size="7.7">2021-04-01</text>
<text transform="translate(151.45,281) rotate(-90)" text-anchor="end" font-size="7.7">2021-04-14</text>
<text transform="translate(161.27,281) rotate(-90)" text-anchor="end" font-size="7.7">2021-04-26</text>
<text transform="translate(171.08,281) rotate(-90)" text-anchor="end" font-size="7.7">2021-05-11</text>
<text transform="translate(180.90,281) rotate(-90)" text-anchor="end" font-size="7.7">2021-05-21</text>
<text transform="translate(190.71,281) rotate(-90)" text-anchor="end" font-size="7.7">2021-06-02</text>
<text transform="translate(200.52,281) rotate(-90)" text-anchor="end" font-size="7.7">2021-06-15</text>
<text transform="translate(210.34,281) rotate(-90)" text-anchor="end" font-size="7.7">2021-06-25</text>
<text transform="translate(220.15,281) rotate(-90)" text-anchor="end" font-size="7.7">2021-07-07</text>
<text transform="translate(229.97,281) rotate(-90)" text-anchor="end" font-size="7.7">2021-07-19</text>
<text transform="translate(239.78,281) rotate(-90)" text-anchor="end" font-size="7.7">2021-07-29</text>
<text transform="translate(249.59,281) rotate(-90)" text-anchor="end" font-size="7.7">2021-08-10</text>
<text transform="translate(259.41,281) rotate(-90)" text-anchor="end" font-size="7.7">2021-08-20</text>
<text transform="translate(269.22,281) rotate(-90)" text-anchor="end" font-size="7.7">2021-09-01</text>
<text transform="translate(279.04,281) rotate(-90)" text-anchor="end" font-size="7.7">2021-09-13</text>
<text transform="translate(288.85,281) rotate(-90)" text-anchor="end" font-size="7.7">2021-09-27</text>
<text transform="translate(298.66,281) rotate(-90)" text-anchor="end" font-size="7.7">2021-10-14</text>
<text transform="translate(308.48,281) rotate(-90)" text-anchor="end" font-size="7.7">2021-10-26</text>
<text transform="translate(318.29,281) rotate(-90)" text-anchor="end" font-size="7.7">2021-11-05</text>
<text transform="translate(328.11,281) rotate(-90)" text-anchor="end" font-size="7.7">2021-11-17</text>
<text transform="translate(337.92,281) rotate(-90)" text-anchor="end" font-size="7.7">2021-11-29</text>
<text transform="translate(347.73,281) rotate(-90)" text-anchor="end" font-size="7.7">2021-12-09</text>
<text transform="translate(357.55,281) rotate(-90)" text-anchor="end" font-size="7.7">2021-12-21</text>
<text transform="translate(367.36,281) rotate(-90)" text-anchor="end" font-size="7.7">2021-12-31</text>
<text transform="translate(377.18,281) rotate(-90)" text-anchor="end" font-size="7.7">2022-01-13</text>
<text transform="translate(386.99,281) rotate(-90)" text-anchor="end" font-size="7.7">2022-01-25</text>
<text transform="translate(396.80,281) rotate(-90)" text-anchor="end" font-size="7.7">2022-02-11</text>
<text transform="translate(406.62,281) rotate(-90)" text-anchor="end" font-size="7.7">2022-02-23</text>
<text transform="translate(416.43,281) rotate(-90)" text-anchor="end" font-size="7.7">2022-03-07</text>
<text transform="translate(426.25,281) rotate(-90)" text-anchor="end" font-size="7.7">2022-03-17</text>
<text transform="translate(436.06,281) rotate(-90)" text-anchor="end" font-size="7.7">2022-03-29</text>
<text transform="translate(445.87,281) rotate(-90)" text-anchor="end" font-size="7.7">2022-04-12</text>
<text transform="translate(455.69,281) rotate(-90)" text-anchor="end" font-size="7.7">2022-04-22</text>
<text transform="translate(465.50,281) rotate(-90)" text-anchor="end" font-size="7.7">2022-05-09</text>
<text transform="translate(475.32,281) rotate(-90)" text-anchor="end" font-size="7.7">2022-05-19</text>
<text transform="translate(485.13,281) rotate(-90)" text-anchor="end" font-size="7.7">2022-05-31</text>
<text transform="translate(494.94,281) rotate(-90)" text-anchor="end" font-size="7.7">2022-06-13</text>
<text transform="translate(504.76,281) rotate(-90)" text-anchor="end" font-size="7.7">2022-06-23</text>
<text transform="translate(514.57,281) rotate(-90)" text-anchor="end" font-size="7.7">2022-07-05</text>
<text transform="translate(524.39,281) rotate(-90)" text-anchor="end" font-size="7.7">2022-07-15</text>
<text transform="translate(534.20,281) rotate(-90)" text-anchor="end" font-size="7.7">2022-07-27</text>
</g>
<g>
<line x1="99.8" y1="331.1" x2="121.1" y2="331.1" stroke="#8c8c8c" stroke-width="1.3"/><text x="124.4" y="334.2">IGA-LSTM</text>
<line x1="167.9" y1="331.1" x2="190.8" y2="331.1" stroke="#ea8489" stroke-width="1.3"/><text x="194.7" y="334.2">TRUE</text>
<line x1="220.9" y1="331.1" x2="243.1" y2="331.1" stroke="#ffd966" stroke-width="1.3"/><text x="246.4" y="334.2">LSTM</text>
<line x1="273" y1="331.1" x2="295.3" y2="331.1" stroke="#a9d18e" stroke-width="1.3"/><text x="299.3" y="334.2">ARIMA</text>
<line x1="330.4" y1="331.1" x2="352.6" y2="331.1" stroke="#9dc3e6" stroke-width="1.3"/><text x="356.5" y="334.2">SVM</text>
<line x1="379.4" y1="331.1" x2="401.4" y2="331.1" stroke="#b48ad0" stroke-width="1.3"/><text x="404.6" y="334.2">GA-LSTM</text>
</g>
</svg>
</body></html>
